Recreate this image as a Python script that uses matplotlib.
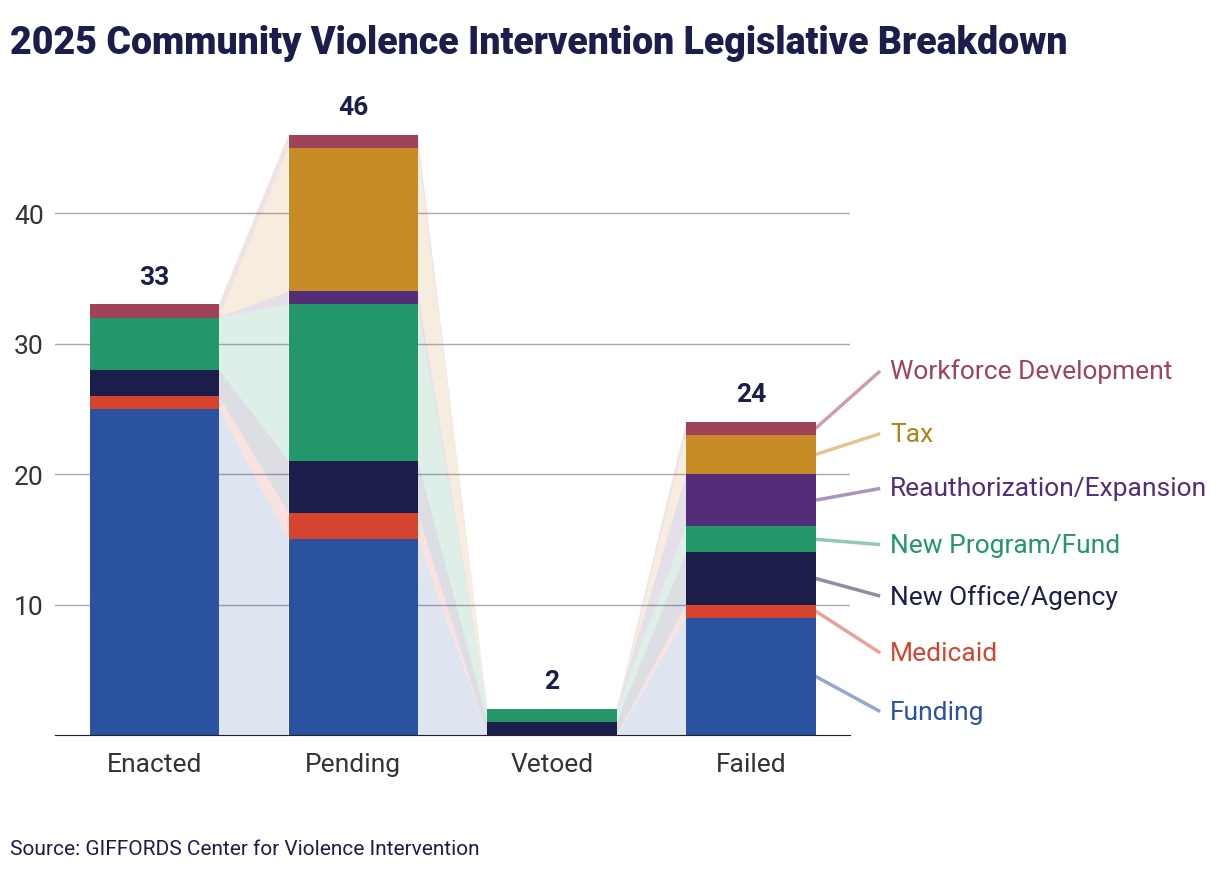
import matplotlib
matplotlib.use("Agg")
import matplotlib.pyplot as plt
import numpy as np

plt.rcParams['font.family'] = ['Roboto', 'DejaVu Sans']

categories = ["Enacted", "Pending", "Vetoed", "Failed"]
series = ["Funding", "Medicaid", "New Office/Agency", "New Program/Fund",
          "Reauthorization/Expansion", "Tax", "Workforce Development"]
values = {
    "Funding": [25, 15, 0, 9],
    "Medicaid": [1, 2, 0, 1],
    "New Office/Agency": [2, 4, 1, 4],
    "New Program/Fund": [4, 12, 1, 2],
    "Reauthorization/Expansion": [0, 1, 0, 4],
    "Tax": [0, 11, 0, 3],
    "Workforce Development": [1, 1, 0, 1],
}
colors = ["#2a52a0", "#d64430", "#1b1e4b", "#23966a", "#542d78", "#c78c25", "#a0435a"]
label_colors = ["#2a52a0", "#d64430", "#1b1e4b", "#23966a", "#542d78", "#b08518", "#a0435a"]
label_y = [1.8, 6.3, 10.65, 14.6, 18.9, 23.1, 27.9]
navy = "#1b1e4b"

fig = plt.figure(figsize=(12.2, 8.78), dpi=100)
ax = fig.add_axes([0.045, 0.1617, 0.652, 0.7133])
x = np.arange(len(categories))
w = 0.65
bottom = np.zeros(len(categories))
for s, c in zip(series, colors):
    v = np.array(values[s], dtype=float)
    ax.bar(x, v, w, bottom=bottom, color=c, zorder=3)
    for i in range(len(x) - 1):
        xs = [x[i] + w/2, x[i+1] - w/2, x[i+1] - w/2, x[i] + w/2]
        ys = [bottom[i], bottom[i+1], bottom[i+1] + v[i+1], bottom[i] + v[i]]
        ax.fill(xs, ys, color=c, alpha=0.15, lw=0, zorder=2)
    bottom += v
totals = bottom
for xi, t in zip(x, totals):
    ax.text(xi, t + 1.2, f"{int(t)}", ha="center", va="bottom", fontsize=19,
            fontweight="bold", color=navy)

# right side labels for last bar
b = 0.0
last = len(x) - 1
for s, c, lc, ly in zip(series, colors, label_colors, label_y):
    v = values[s][last]
    mid = b + v / 2
    b += v
    ax.plot([x[last] + w/2, 3.65], [mid, ly], color=c, alpha=0.5, lw=2.5,
            clip_on=False, solid_capstyle="butt")
    ax.text(3.70, ly, s, color=lc, fontsize=19, va="center", ha="left")

ax.set_xlim(-0.5, 3.5)
ax.set_ylim(0, 48)
ax.set_yticks([10, 20, 30, 40])
ax.set_xticks(x)
ax.set_xticklabels(categories)
ax.tick_params(axis="both", length=0, labelsize=19, colors="#333333")
ax.tick_params(axis="x", pad=12)
ax.tick_params(axis="y", pad=8)
ax.grid(axis="y", color="#a8a8b8", lw=1, zorder=0)
for sp in ["top", "right", "left"]:
    ax.spines[sp].set_visible(False)
ax.spines["bottom"].set_color("#222222")
ax.spines["bottom"].set_zorder(4)

fig.text(0.008, 0.95, "2025 Community Violence Intervention Legislative Breakdown",
         fontsize=27, fontweight="black", color=navy, va="center", ha="left")
fig.text(0.008, 0.032, "Source: GIFFORDS Center for Violence Intervention",
         fontsize=15, color=navy, va="center", ha="left")
fig.savefig("out.png", dpi=100)
